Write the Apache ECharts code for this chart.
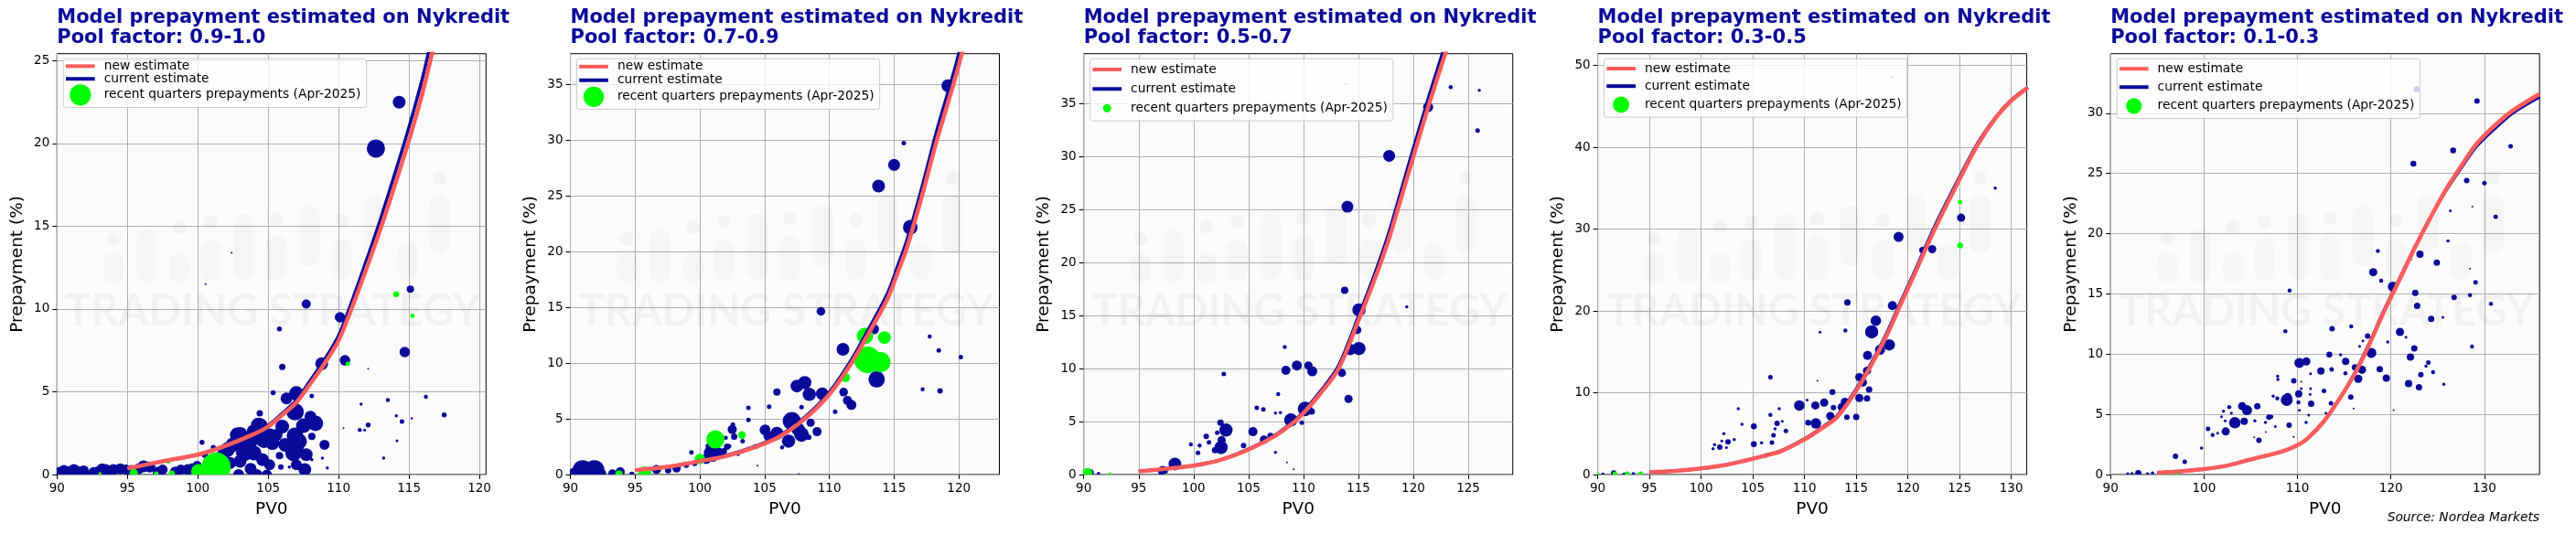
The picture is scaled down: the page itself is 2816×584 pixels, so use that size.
<!DOCTYPE html>
<html>
<head>
<meta charset="utf-8">
<title>Model prepayment estimated on Nykredit</title>
<script src="https://cdn.jsdelivr.net/npm/echarts@6/dist/echarts.min.js"></script>
<style>
  html, body { margin: 0; padding: 0; background: #fff; }
  #chart { width: 2816px; height: 584px; }
</style>
</head>
<body>
<div id="chart"></div>
<script>
// ---- data ----
const poolFactors = ['0.9-1.0', '0.7-0.9', '0.5-0.7', '0.3-0.5', '0.1-0.3'];
const xMax = [120.47, 123.13, 129.05, 131.5, 135.9];
const yMax = [25.43, 37.78, 39.75, 51.45, 34.94];
const xTicks1 = [90, 95, 100, 105, 110, 115, 120];
const xTicks2 = [90, 95, 100, 105, 110, 115, 120];
const xTicks3 = [90, 95, 100, 105, 110, 115, 120, 125];
const xTicks4 = [90, 95, 100, 105, 110, 115, 120, 125, 130];
const xTicks5 = [90, 100, 110, 120, 130];
const yTicks1 = [0, 5, 10, 15, 20, 25];
const yTicks2 = [0, 5, 10, 15, 20, 25, 30, 35];
const yTicks3 = [0, 5, 10, 15, 20, 25, 30, 35];
const yTicks4 = [0, 10, 20, 30, 40, 50];
const yTicks5 = [0, 5, 10, 15, 20, 25, 30];

// model curves: PV0 -> prepayment (%)
const pv1 = [95, 97.5, 100, 102, 104, 105, 106, 107, 108, 109, 110, 111, 112, 113, 114, 115, 116, 117];
const new1 = [0.37, 0.8, 1.2, 1.75, 2.45, 2.9, 3.6, 4.35, 5.5, 6.7, 8.1, 10.2, 12.5, 14.9, 17.5, 20.2, 23.2, 26.8];
const cur1 = [0.37, 0.8, 1.22, 1.78, 2.5, 2.97, 3.7, 4.5, 5.7, 6.95, 8.4, 10.6, 13.0, 15.5, 18.2, 21.0, 24.1, 27.9];

const pv2 = [95, 97.5, 100, 102, 104, 106, 108.1, 110, 111.7, 113, 114.5, 115.3, 116, 117.15, 118.3, 119.7, 120.4];
const new2 = [0.4, 0.7, 1.2, 1.65, 2.35, 3.3, 5.0, 7.2, 10.0, 12.6, 15.8, 18.2, 20.4, 25.0, 30.0, 35.5, 38.6];
const cur2 = [0.4, 0.7, 1.22, 1.7, 2.42, 3.4, 5.15, 7.4, 10.3, 13.0, 16.3, 18.8, 21.1, 25.8, 30.9, 36.5, 39.7];

const pv3 = [95, 97.5, 100, 102.5, 105, 107.5, 109.2, 110, 111.5, 113.2, 115.1, 116.5, 117.7, 118.8, 120, 121.5, 123.3];
const new3 = [0.3, 0.55, 0.85, 1.4, 2.35, 3.7, 5.0, 5.8, 7.6, 10.0, 14.8, 18.5, 22.0, 25.8, 30.0, 35.2, 41.0];
const cur3 = [0.3, 0.55, 0.86, 1.42, 2.4, 3.78, 5.12, 5.95, 7.8, 10.3, 15.2, 19.0, 22.6, 26.5, 30.8, 36.0, 41.9];

const pv4 = [95, 97.5, 100, 102.5, 104.2, 106, 107.75, 110, 111.5, 113.1, 114.85, 116.6, 118.1, 119.3, 120.5, 122.6, 124.8, 126.7, 128.5, 130, 131.6];
const new4 = [0.3, 0.45, 0.75, 1.2, 1.68, 2.25, 2.87, 4.3, 5.5, 6.97, 9.95, 13.7, 17.4, 20.8, 24.1, 30.0, 35.6, 40.2, 43.6, 45.7, 47.3];
const cur4 = [0.3, 0.45, 0.75, 1.21, 1.7, 2.28, 2.92, 4.38, 5.6, 7.12, 10.15, 13.95, 17.7, 21.1, 24.4, 30.35, 35.9, 40.4, 43.7, 45.8, 47.35];

const pv5 = [95, 97.5, 100, 102.5, 104.4, 106, 108.3, 110, 111, 112.8, 114.5, 116, 117.5, 119.3, 121, 122.6, 124.2, 125.9, 127.5, 129.1, 131, 133, 135.9];
const new5 = [0.15, 0.27, 0.45, 0.75, 1.14, 1.45, 1.9, 2.45, 2.95, 4.4, 6.3, 8.2, 10.5, 13.6, 16.3, 18.9, 21.3, 23.7, 25.6, 27.4, 28.9, 30.2, 31.6];
const cur5 = [0.15, 0.27, 0.45, 0.75, 1.13, 1.44, 1.89, 2.43, 2.93, 4.38, 6.3, 8.25, 10.6, 13.7, 16.4, 18.95, 21.3, 23.6, 25.45, 27.2, 28.65, 30.0, 31.35];

// observed prepayments: [PV0, prepayment %, bubble diameter]
const hist1 = [
  [114.3, 22.5, 14], [112.65, 19.7, 20], [107.7, 10.3, 10], [110.1, 9.5, 11.5], [115.1, 11.2, 8], [114.7, 7.4, 11.5],
  [105.8, 8.8, 5.5], [106.0, 6.5, 7], [108.8, 6.7, 14], [110.45, 6.9, 11.5], [102.4, 13.4, 2], [100.55, 11.5, 2],
  [112.1, 6.4, 2], [108.1, 4.75, 5], [105.35, 4.95, 5.5], [104.4, 3.7, 7], [113.5, 4.5, 4.5], [116.2, 4.7, 4.5],
  [117.5, 3.6, 5.5], [111.6, 4.25, 3.5], [114.1, 3.55, 3.5], [114.5, 3.2, 5], [115.2, 3.4, 2.5], [112.1, 3.0, 5.5],
  [111.5, 2.7, 4.5], [111.85, 2.7, 3], [110.35, 2.8, 2], [114.15, 2.05, 3], [113.2, 1.0, 3.5], [109.0, 1.8, 11],
  [108.85, 1.0, 3.5], [109.2, 0.4, 3.5], [108.35, 3.1, 17], [107.0, 4.9, 16], [106.3, 4.6, 13], [107.0, 3.75, 16],
  [106.9, 2.35, 18], [107.5, 2.95, 16], [106.8, 1.3, 18], [107.7, 1.2, 14], [107.6, 0.3, 14], [108.1, 2.3, 8],
  [108.1, 0.9, 3.5], [105.9, 1.1, 5], [105.9, 0.45, 6], [106.5, 0.45, 3.5], [105.1, 0.6, 12], [104.9, 0.0, 11],
  [105.6, 2.4, 13], [104.45, 2.95, 16], [104.7, 2.1, 18], [103.6, 1.9, 18], [102.8, 2.4, 16], [103.3, 1.3, 18],
  [102.1, 1.5, 16], [102.3, 0.7, 13], [103.75, 0.35, 13], [104.2, 0.0, 12], [102.9, 0.0, 12], [100.3, 1.95, 5.5],
  [101.1, 1.65, 5.5], [100.5, 1.2, 7], [101.4, 1.0, 10], [99.95, 0.55, 10], [99.3, 0.3, 12], [98.4, 0.15, 12],
  [97.2, 0.15, 12], [96.15, 0.5, 13], [95.3, 0.25, 12], [94.5, 0.35, 12], [93.45, 0.3, 12], [92.6, 0.15, 11],
  [91.55, 0.2, 11], [90.85, 0.2, 11], [90.15, 0.15, 11], [92.0, 0.0, 10], [93.7, 0.05, 12], [106.9, 3.8, 19],
  [104.3, 3.0, 16], [103.0, 2.4, 17], [103.85, 2.15, 17], [105.1, 2.35, 16], [106.9, 1.6, 19], [105.8, 1.15, 8],
  [104.0, 2.6, 16], [103.2, 2.0, 18], [102.5, 1.8, 16], [101.8, 1.2, 14], [105.3, 1.9, 15], [104.0, 1.3, 16],
  [106.2, 1.8, 15], [106.0, 2.9, 15], [107.2, 2.0, 17], [103.0, 0.8, 14], [104.6, 0.9, 14], [108.0, 3.5, 13],
  [107.0, 0.6, 12], [90.5, 0.25, 12], [91.2, 0.3, 12], [91.9, 0.25, 11], [92.9, 0.2, 11], [93.2, 0.35, 12],
  [94.0, 0.3, 12], [94.9, 0.3, 11], [95.8, 0.35, 12], [96.6, 0.45, 12], [97.5, 0.3, 11], [98.8, 0.3, 11],
  [99.6, 0.4, 10]
];
const recent1 = [
  [101.3, 0.45, 32], [100.05, 0.2, 16], [114.1, 10.9, 6.5], [115.25, 9.6, 5], [110.65, 6.7, 5], [97.9, 0.8, 5],
  [95.45, 0.1, 9], [97.05, 0.05, 5], [98.15, 0.05, 7], [93.05, 0.05, 3.5]
];

const hist2 = [
  [119.15, 34.9, 14], [115.75, 29.75, 5], [115.0, 27.8, 13], [113.8, 25.9, 14], [116.25, 22.2, 16], [109.35, 14.65, 9.5],
  [113.45, 13.05, 11], [111.05, 11.25, 14], [113.65, 8.55, 18], [117.75, 12.4, 4.5], [118.45, 11.15, 5], [120.15, 10.55, 5],
  [117.2, 7.65, 4.5], [118.55, 7.5, 6], [111.1, 7.4, 9.5], [111.4, 6.65, 10], [111.7, 6.25, 11], [110.45, 5.65, 5],
  [105.95, 7.4, 8], [107.5, 7.95, 14], [108.1, 8.25, 14.5], [108.45, 7.2, 14.5], [109.45, 7.25, 14], [107.8, 8.55, 2],
  [107.85, 6.05, 5], [103.75, 6.0, 5], [103.75, 4.9, 5], [105.35, 6.1, 5], [107.1, 4.8, 20], [107.6, 4.05, 14.5],
  [107.85, 3.6, 16], [106.85, 3.0, 14.5], [105.95, 3.7, 14.5], [105.05, 4.05, 11], [105.3, 3.45, 11], [108.55, 4.65, 9],
  [109.05, 3.85, 10], [108.4, 3.35, 6], [106.35, 2.45, 4.5], [104.45, 0.8, 2], [107.65, 0.05, 2], [102.5, 4.05, 10],
  [102.65, 3.4, 7], [103.3, 3.0, 5], [102.25, 2.55, 5], [102.0, 3.3, 4.5], [101.0, 2.7, 11], [100.65, 2.55, 6],
  [101.35, 1.9, 14], [101.0, 1.6, 11], [100.5, 1.4, 11], [101.85, 2.1, 7], [102.95, 1.85, 4.5], [99.35, 2.0, 5],
  [99.6, 1.0, 6], [98.95, 0.85, 6], [98.2, 0.55, 9], [97.55, 0.4, 7], [96.65, 0.45, 10], [95.9, 0.2, 9],
  [93.85, 0.25, 10], [93.25, 0.1, 9], [91.85, 0.4, 22], [90.95, 0.4, 22], [90.3, 0.1, 12.5], [92.45, 0.1, 9],
  [94.75, 0.05, 5.5], [100.8, 1.95, 14], [102.1, 2.5, 7], [104.3, 2.5, 5.5], [105.0, 4.0, 11], [102.55, 4.5, 5]
];
const recent2 = [
  [112.95, 10.3, 29], [113.95, 10.1, 22], [112.75, 12.45, 18], [114.25, 12.3, 14], [111.25, 8.7, 10],
  [101.2, 3.15, 20], [103.25, 3.55, 8.5], [100.0, 1.4, 11.5], [95.75, 0.15, 14.5], [93.75, 0.05, 8]
];

const hist3 = [
  [121.35, 34.7, 11], [123.4, 36.6, 4.5], [126.0, 36.3, 3.5], [125.85, 32.5, 5], [113.85, 36.9, 2], [117.8, 30.1, 13],
  [114.0, 25.3, 13], [113.75, 17.4, 8], [115.05, 15.55, 14.5], [114.9, 13.65, 9], [115.05, 11.9, 14.5], [114.25, 11.8, 12.5],
  [119.4, 15.85, 3.5], [113.5, 9.6, 9], [114.1, 7.15, 9], [108.3, 12.05, 4.5], [108.4, 9.85, 10], [109.4, 10.3, 11],
  [110.45, 10.3, 9], [110.8, 9.75, 11], [102.75, 9.5, 5], [107.7, 7.6, 4.5], [105.75, 6.3, 5], [106.35, 6.15, 5],
  [107.45, 5.8, 3.5], [107.9, 5.85, 3.5], [110.15, 6.2, 16], [110.75, 5.95, 7], [108.85, 5.15, 14.5], [109.85, 4.9, 5],
  [105.4, 4.05, 10], [106.4, 3.3, 9], [107.0, 3.65, 7], [104.55, 2.75, 6], [107.45, 2.1, 3.5], [108.5, 1.15, 2],
  [109.1, 0.5, 2], [102.95, 4.2, 14.5], [102.45, 4.9, 7], [102.15, 3.95, 5], [102.55, 3.25, 9], [102.5, 2.55, 14.5],
  [101.95, 2.3, 7], [101.15, 3.6, 6], [101.4, 3.05, 5], [100.55, 2.75, 4.5], [99.75, 2.85, 4.5], [100.4, 2.05, 5],
  [98.3, 1.0, 14], [97.2, 0.35, 11], [90.55, 0.15, 9], [91.35, 0.1, 3.5]
];
const recent3 = [[90.35, 0.15, 11], [92.4, 0.05, 3.5], [97.45, 0.05, 2]];

const hist4 = [
  [128.45, 35.0, 3.5], [125.15, 31.4, 9], [119.1, 29.05, 11], [121.4, 27.45, 7], [122.35, 27.55, 9], [118.5, 48.6, 2],
  [114.15, 21.05, 7], [118.5, 20.65, 10], [116.9, 18.8, 11.5], [116.5, 17.45, 14.5], [111.5, 17.4, 3], [113.95, 17.6, 4.5],
  [118.2, 15.85, 12.5], [117.3, 15.25, 11], [116.1, 14.55, 10], [111.25, 11.45, 2], [106.7, 11.9, 5], [116.05, 12.7, 9],
  [115.3, 11.9, 9], [115.65, 11.25, 9], [116.25, 10.4, 7], [112.7, 10.1, 6.5], [115.3, 9.35, 9], [116.05, 9.3, 7],
  [113.9, 8.9, 9], [113.6, 8.25, 9], [112.8, 8.2, 6], [111.9, 8.8, 9], [111.05, 8.45, 9], [109.5, 8.45, 11.5],
  [112.5, 7.15, 9], [114.1, 7.0, 6], [115.0, 7.05, 7], [111.1, 6.25, 11.5], [110.35, 6.35, 6.5], [110.25, 9.1, 3],
  [107.55, 8.05, 3.5], [106.7, 7.3, 4.5], [107.85, 6.5, 3], [107.35, 6.25, 6], [107.15, 5.6, 3.5], [108.2, 5.35, 5],
  [107.0, 4.8, 5], [106.85, 3.9, 5], [105.85, 3.88, 3.5], [105.1, 5.9, 6.5], [105.1, 3.72, 6.5], [106.2, 2.3, 4.5],
  [103.6, 8.05, 3.5], [103.95, 6.15, 3.5], [102.2, 5.0, 3.5], [103.2, 4.28, 3.5], [102.6, 4.0, 6], [102.0, 4.1, 3],
  [101.8, 3.35, 6], [101.3, 3.65, 3.5], [101.15, 3.15, 3.5], [102.45, 3.3, 3], [91.55, 0.2, 6], [90.5, 0.05, 3.5],
  [93.45, 0.1, 3.5], [92.55, 0.05, 3.5]
];
const recent4 = [[125.05, 33.3, 5], [125.05, 28.0, 6.5], [91.65, 0.1, 5], [92.85, 0.1, 5], [94.15, 0.1, 5], [90.05, 0.05, 3]];

const hist5 = [
  [129.2, 31.0, 6], [122.75, 32.0, 6.5], [132.8, 27.25, 5], [126.65, 26.9, 6.5], [122.4, 25.8, 6.5], [128.1, 24.4, 6],
  [130.0, 24.2, 5], [126.35, 21.9, 3], [128.7, 22.25, 2], [131.2, 21.4, 5], [126.1, 19.4, 3.5], [123.1, 18.3, 8],
  [118.6, 18.55, 4.5], [122.1, 17.9, 3], [124.9, 17.6, 7], [118.1, 16.8, 9], [128.45, 17.1, 2], [118.95, 16.1, 4.5],
  [129.05, 15.95, 5], [120.2, 15.6, 11], [109.15, 15.28, 4.5], [122.6, 15.08, 7], [128.45, 14.9, 4.5], [126.75, 14.7, 6],
  [122.8, 14.0, 7], [130.7, 14.17, 4.5], [124.3, 12.93, 7], [125.55, 13.05, 3], [108.7, 11.9, 4.5], [113.7, 12.1, 6],
  [115.75, 12.3, 4.5], [120.96, 11.84, 9], [117.5, 11.5, 6], [117.0, 11.1, 3], [119.65, 11.0, 3.5], [121.6, 11.4, 3],
  [116.65, 10.65, 3], [122.5, 10.48, 7], [128.67, 10.63, 4.5], [117.9, 10.1, 11], [113.4, 9.97, 6.5], [114.6, 9.95, 3.5],
  [115.15, 9.4, 8], [110.2, 9.27, 11], [110.94, 9.39, 9], [122.08, 9.75, 8], [124.0, 9.3, 5], [123.75, 9.0, 3.5],
  [116.15, 8.9, 7], [116.9, 8.7, 9], [118.8, 8.74, 7], [113.65, 8.73, 5], [112.5, 8.59, 8], [115.12, 8.41, 4.5],
  [124.5, 8.5, 4.5], [123.2, 8.3, 6], [119.5, 8.0, 8], [116.5, 7.95, 9], [111.4, 8.36, 3], [107.87, 8.16, 3.5],
  [107.9, 7.9, 3.5], [109.6, 7.78, 6], [110.4, 7.7, 2], [121.88, 7.55, 8], [123.0, 7.25, 7], [125.65, 7.5, 3.5],
  [112.83, 6.95, 5], [110.4, 7.14, 3], [111.4, 7.14, 3], [110.13, 6.69, 8], [111.35, 6.66, 3], [115.7, 6.44, 6],
  [107.4, 6.5, 3.5], [107.84, 6.31, 4.5], [108.85, 6.19, 13], [108.95, 6.44, 9], [110.1, 6.0, 4.5], [111.46, 5.89, 7],
  [113.58, 5.93, 5], [105.7, 5.68, 7], [104.08, 5.68, 9], [104.6, 5.35, 11], [102.7, 5.6, 4.5], [102.08, 5.25, 3.5],
  [110.2, 5.33, 3], [111.2, 4.94, 3], [116.0, 5.48, 2], [120.28, 5.35, 2], [113.04, 5.11, 3], [106.94, 4.77, 6],
  [107.2, 4.8, 4.5], [101.87, 4.8, 3], [103.3, 4.3, 12.5], [104.3, 4.42, 8], [102.93, 5.11, 3], [102.26, 4.46, 3],
  [105.44, 4.46, 3.5], [106.57, 4.32, 3.5], [109.1, 4.09, 6], [110.92, 4.32, 3.5], [107.63, 3.98, 3], [100.43, 3.79, 5],
  [102.32, 3.58, 9], [100.92, 3.28, 4.5], [101.45, 3.44, 3], [105.87, 2.85, 6], [105.37, 3.1, 2], [106.61, 3.53, 2],
  [109.58, 3.13, 2], [111.8, 3.53, 2], [99.73, 2.2, 3.5], [96.95, 1.52, 6], [97.93, 1.06, 5], [92.97, 0.11, 7],
  [91.84, 0.06, 3.5], [92.3, 0.08, 3.5], [93.96, 0.06, 3.5], [94.49, 0.14, 3.5]
];
const recent5 = [[96.2, 0.05, 8], [97.15, 0.15, 4.5], [95.4, 0.05, 3]];

// ---- layout / style ----
const NAVY = '#0a0a9a';
const RED = '#fd5c5c';
const LIME = '#00ff00';
const FONT = 'DejaVu Sans';
const plotLeft = [62.3, 623.5, 1184.7, 1746.6, 2307.2];
const plotTop = 58.7, plotW = 469, plotH = 460.3;
const legendMarker = [23.3, 22.3, 9, 18, 17.3]; // size of the green circle in each legend
const LINE_ICON = 'path://M0,0H32V4H0Z';

const panels = [
  {pv: pv1, newEst: new1, curEst: cur1, hist: hist1, recent: recent1, xTicks: xTicks1, yTicks: yTicks1},
  {pv: pv2, newEst: new2, curEst: cur2, hist: hist2, recent: recent2, xTicks: xTicks2, yTicks: yTicks2},
  {pv: pv3, newEst: new3, curEst: cur3, hist: hist3, recent: recent3, xTicks: xTicks3, yTicks: yTicks3},
  {pv: pv4, newEst: new4, curEst: cur4, hist: hist4, recent: recent4, xTicks: xTicks4, yTicks: yTicks4},
  {pv: pv5, newEst: new5, curEst: cur5, hist: hist5, recent: recent5, xTicks: xTicks5, yTicks: yTicks5}
];

// watermark pieces, px inside the plot: [centre x, top, bottom, circle y or null]
const wmPills = [
  [62, 217.5, 251, 202.6], [98, 191.5, 251, null], [134, 217.5, 251, 189.6], [168, 202.6, 249, 184],
  [205, 174.7, 247.3, null], [240, 198.9, 249, 180.3], [276, 165.5, 232.4, null], [312, 202.6, 247.3, 182.2],
  [347, 154.3, 217.5, null], [383, 206.3, 247.3, null], [418, 154.3, 218.5, 135.7]
];

// bubbles drawn through the axis scales, clipped to the plot like matplotlib
function bubbles(name, data, color, idx, z) {
  return {
    type: 'custom', name: name, data: data, xAxisIndex: idx, yAxisIndex: idx, z: z,
    clip: true,
    encode: {x: 0, y: 1},
    itemStyle: {color: color},
    renderItem: function (params, api) {
      const p = api.coord([api.value(0), api.value(1)]);
      return {type: 'circle', shape: {cx: p[0], cy: p[1], r: api.value(2) / 2}, style: {fill: color}};
    }
  };
}

function curve(name, xs, ys, color, width, idx, z) {
  return {
    type: 'line', name: name, xAxisIndex: idx, yAxisIndex: idx, z: z,
    data: xs.map((x, i) => [x, ys[i]]),
    symbol: 'none', showSymbol: false, smooth: 0.3, clip: true,
    lineStyle: {color: color, width: width},
    itemStyle: {color: color}
  };
}

const option = {
  animation: false,
  backgroundColor: '#ffffff',
  title: [], grid: [], xAxis: [], yAxis: [], legend: [], series: [],
  graphic: {elements: []}
};

panels.forEach((p, i) => {
  const left = plotLeft[i];
  option.title.push({
    text: 'Model prepayment estimated on Nykredit\nPool factor: ' + poolFactors[i],
    left: left, top: 9, padding: 0,
    textStyle: {fontFamily: FONT, fontSize: 21, fontWeight: 'bold', color: NAVY, lineHeight: 22}
  });
  option.grid.push({
    left: left, top: plotTop, width: plotW, height: plotH,
    show: true, backgroundColor: '#fbfbfb', borderColor: '#000', borderWidth: 1,
    outerBoundsMode: 'none', containLabel: false
  });
  const xStep = p.xTicks[1] - p.xTicks[0];
  const yStep = p.yTicks[1] - p.yTicks[0];
  option.xAxis.push({
    type: 'value', gridIndex: i, min: 90, max: xMax[i], interval: xStep,
    name: 'PV0', nameLocation: 'middle', nameGap: 29,
    nameTextStyle: {fontFamily: FONT, fontSize: 18.5, color: '#000'},
    axisLine: {show: false},
    axisTick: {show: true, length: 5, lineStyle: {color: '#000'}, customValues: p.xTicks},
    axisLabel: {fontFamily: FONT, fontSize: 13.5, color: '#000', margin: 8, customValues: p.xTicks,
      formatter: v => (p.xTicks.indexOf(v) >= 0 ? String(v) : '')},
    splitLine: {show: true, lineStyle: {color: '#b0b0b0', width: 1}}
  });
  option.yAxis.push({
    type: 'value', gridIndex: i, min: 0, max: yMax[i], interval: yStep,
    name: 'Prepayment (%)', nameLocation: 'middle', nameGap: 34, nameRotate: 90,
    nameTextStyle: {fontFamily: FONT, fontSize: 18.5, color: '#000'},
    axisLine: {show: false},
    axisTick: {show: true, length: 5, lineStyle: {color: '#000'}, customValues: p.yTicks},
    axisLabel: {fontFamily: FONT, fontSize: 13.5, color: '#000', margin: 8, customValues: p.yTicks,
      formatter: v => (p.yTicks.indexOf(v) >= 0 ? String(v) : '')},
    splitLine: {show: true, lineStyle: {color: '#b0b0b0', width: 1}}
  });

  // legend box, one per panel (green marker size differs per panel)
  const ih = legendMarker[i];
  const row = Math.max(ih, 16);
  option.legend.push({
    orient: 'vertical', left: left + 7, top: 64.3,
    selectedMode: false,
    itemWidth: 31.7, itemHeight: ih, itemGap: 21.2 - row,
    padding: [11.7 - row / 2, 6, 13.7 - row / 2, 2.7],
    backgroundColor: 'rgba(255,255,255,0.8)', borderColor: '#cccccc', borderWidth: 1, borderRadius: 3,
    textStyle: {fontFamily: FONT, fontSize: 13.8, color: '#000', lineHeight: 16, padding: [0, 0, 0, 5]},
    data: [
      {name: 'new estimate', icon: LINE_ICON},
      {name: 'current estimate', icon: LINE_ICON},
      {name: 'recent quarters prepayments (Apr-2025)', icon: 'circle'}
    ]
  });

  option.series.push(bubbles('historical', p.hist, NAVY, i, 2));
  option.series.push(bubbles('recent quarters prepayments (Apr-2025)', p.recent, LIME, i, 3));
  option.series.push(curve('current estimate', p.pv, p.curEst, NAVY, 3.5, i, 4));
  option.series.push(curve('new estimate', p.pv, p.newEst, RED, 4.5, i, 5));

  // faint "trading strategy" watermark
  wmPills.forEach(w => {
    option.graphic.elements.push({
      type: 'rect', silent: true, z: 1,
      shape: {x: left + w[0] - 11.5, y: plotTop + w[1], width: 23, height: w[2] - w[1], r: 11.5},
      style: {fill: 'rgba(0,0,0,0.022)'}
    });
    if (w[3] !== null) {
      option.graphic.elements.push({
        type: 'circle', silent: true, z: 1,
        shape: {cx: left + w[0], cy: plotTop + w[3], r: 7.5},
        style: {fill: 'rgba(0,0,0,0.03)'}
      });
    }
  });
  option.graphic.elements.push({
    type: 'text', silent: true, z: 1,
    x: left + 236, y: plotTop + 282.6,
    style: {text: 'TRADING STRATEGY', fontFamily: 'Lato', fontWeight: 'bold', fontSize: 47,
      fill: 'rgba(0,0,0,0.04)', align: 'center', verticalAlign: 'middle'}
  });
});

// source note, bottom right
option.title.push({
  text: 'Source: Nordea Markets', right: 40, top: 559, padding: 0,
  textStyle: {fontFamily: FONT, fontSize: 13.8, fontStyle: 'italic', fontWeight: 'normal', color: '#000'}
});

const chart = echarts.init(document.getElementById('chart'), null, {renderer: 'canvas'});
chart.setOption(option);
</script>
</body>
</html>
